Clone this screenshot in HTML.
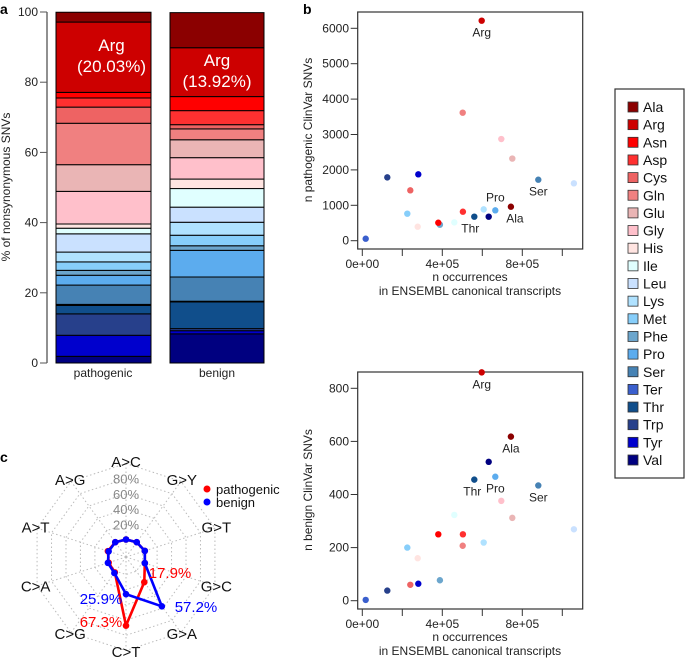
<!DOCTYPE html>
<html><head><meta charset="utf-8"><style>
html,body{margin:0;padding:0;background:#fff;}
svg{display:block;font-family:"Liberation Sans",sans-serif;}
</style></head><body>
<svg id="fig" width="685" height="660" viewBox="0 0 685 660"></svg>
<script>
const aminoAcids=["Ala","Arg","Asn","Asp","Cys","Gln","Glu","Gly","His","Ile","Leu","Lys","Met","Phe","Pro","Ser","Ter","Thr","Trp","Tyr","Val"];
const aaColors=["#8B0000","#CD0000","#FF0000","#FF3030","#EE6363","#F08080","#EAB5B5","#FFC0CB","#FFE4E1","#E0FFFF","#CAE1FF","#B0E2FF","#87CEFA","#6CA6CD","#5CACEE","#4682B4","#3A5FCD","#104E8B","#27408B","#0000CD","#000080"];
// panel a: percent of nonsynonymous SNVs (order as aminoAcids)
const pathogenicPct=[2.8,20.03,1.6,2.6,4.6,11.8,7.6,9.3,1.2,1.6,5.2,2.8,2.4,1.4,2.8,5.5,0.3,2.4,6.1,6.0,1.9];
const benignPct=[10.0,13.92,4.0,4.0,1.2,3.1,5.1,6.1,2.7,5.3,4.3,3.7,3.0,1.3,7.6,6.9,0.2,7.6,0.6,0.9,8.3];
// panel b: occurrences and counts
const occurrences=[743000,597000,380000,503000,240000,502000,750000,695000,277000,460000,1058000,607000,225000,388000,665000,880000,17000,560000,125000,280000,632000];
const pathogenicCount=[960,6215,508,819,1422,3616,2320,2872,395,518,1620,885,763,452,857,1723,56,678,1789,1874,678];
const benignCount=[618,860,250,250,60,207,312,376,160,323,269,219,200,77,467,434,3,456,38,64,523];
const xTicks=[0,200000,400000,600000,800000,1000000];
const xTickLabels=["0e+00","","4e+05","","8e+05",""];
const yTicksTop=[0,1000,2000,3000,4000,5000,6000];
const yTicksBot=[0,200,400,600,800];
const pctTicks=[0,20,40,60,80,100];
// panel c radar
const mutTypes=["A>C","G>Y","G>T","G>C","G>A","C>T","C>G","C>A","A>T","A>G"];
const radarPathogenic=[0,1,3,3,17.9,67.3,2,1,2,1];
const radarBenign=[0,1,3,3,57.2,25.9,3,2,1,1];
const radarTicks=[20,40,60,80];

const NS="http://www.w3.org/2000/svg";
const svg=document.getElementById('fig');
function mk(tag,attrs,parent,text){const e=document.createElementNS(NS,tag);for(const k in attrs)e.setAttribute(k,attrs[k]);if(text!==undefined)e.textContent=text;(parent||svg).appendChild(e);return e;}

// ---------- panel a ----------
const ga=mk('g',{});


const t=mk('text',{x:0,y:14,'font-size':14,'font-weight':'bold'},ga,'a');

const yA=v=>363-v*3.51;
const axA=mk('line',{x1:47,x2:47,y1:yA(0),y2:yA(100),stroke:'#555','stroke-width':1.3},ga);

pctTicks.forEach(v=>{
  mk('line',{x1:40,x2:47,y1:yA(v),y2:yA(v),stroke:'#555'},ga);
  const l=mk('text',{x:38,y:yA(v)+4,'font-size':12,'text-anchor':'end',fill:'#222'},ga,String(v));
  
});
const yt=mk('text',{x:10,y:187,'font-size':12,'text-anchor':'middle',transform:'rotate(-90 10 187)',fill:'#222'},ga,'% of nonsynonymous SNVs');

function stack(vals,x0,w,name){
  let cum=0;
  for(let i=aminoAcids.length-1;i>=0;i--){
    const r=mk('rect',{x:x0,y:yA(cum+vals[i]),width:w,height:vals[i]*3.51,fill:aaColors[i],stroke:'#000','stroke-width':1},ga);
    
    
    cum+=vals[i];
  }
}
stack(pathogenicPct,56,95,'pathogenic');
stack(benignPct,170,94,'benign');
[[103.5,'20.03%'],[217,'13.92%']].forEach((p,k)=>{
  const base=k===0?yA(97.2-pathogenicPct[1]/2):yA(89.8-benignPct[1]/2);
  const a=mk('text',{x:p[0]+(k?0:8),y:base-6,'font-size':17,fill:'#fff','text-anchor':'middle'},ga,'Arg');
  
  const b=mk('text',{x:p[0]+(k?0:8),y:base+15,'font-size':17,fill:'#fff','text-anchor':'middle'},ga,'('+p[1]+')');
  
});
const xl1=mk('text',{x:103,y:377,'font-size':12,'text-anchor':'middle',fill:'#222'},ga,'pathogenic');

const xl2=mk('text',{x:217,y:377,'font-size':12,'text-anchor':'middle',fill:'#222'},ga,'benign');


// ---------- panel b ----------
const xS=v=>362.3+v*0.0002;
function scatter(oy,counts,yTicks,yMax,ytitle,labels,name){
  const g=mk('g',{});
  
  const y0=oy+240.7, yTop=oy+28.3;
  const yS=v=>y0-(v/yMax)*(y0-yTop);
  const fr=mk('rect',{x:357.7,y:oy+12,width:225,height:237,fill:'none',stroke:'#333','stroke-width':1.2},g);
  
  xTicks.forEach((v,i)=>{
    mk('line',{x1:xS(v),x2:xS(v),y1:oy+249,y2:oy+256,stroke:'#333'},g);
    if(xTickLabels[i]){const l=mk('text',{x:xS(v),y:oy+268,'font-size':12,'text-anchor':'middle',fill:'#222'},g,xTickLabels[i]);
      }
  });
  yTicks.forEach(v=>{
    mk('line',{x1:350.7,x2:357.7,y1:yS(v),y2:yS(v),stroke:'#333'},g);
    const l=mk('text',{x:349,y:yS(v)+4,'font-size':12,'text-anchor':'end',fill:'#222'},g,String(v));
    
  });
  const a1=mk('text',{x:470,y:oy+281,'font-size':12,'text-anchor':'middle',fill:'#222'},g,'n occurrences');
  
  const a2=mk('text',{x:470,y:oy+295,'font-size':12,'text-anchor':'middle',fill:'#222'},g,'in ENSEMBL canonical transcripts');
  
  const ycy=oy+130;
  const ya=mk('text',{x:312,y:ycy,'font-size':12,'text-anchor':'middle',transform:'rotate(-90 312 '+ycy+')',fill:'#222'},g,ytitle);
  
  for(let i=aminoAcids.length-1;i>=0;i--){
    const c=mk('circle',{cx:xS(occurrences[i]),cy:yS(counts[i]),r:3.2,fill:aaColors[i]},g);
    
    
  }
  labels.forEach(L=>{
    const i=aminoAcids.indexOf(L.n);
    const l=mk('text',{x:xS(occurrences[i])+L.dx,y:yS(counts[i])+L.dy,'font-size':12,'text-anchor':'middle',fill:'#222'},g,L.n);
    
  });
}
const bl=mk('text',{x:303,y:14,'font-size':14,'font-weight':'bold'},null,'b');

scatter(0,pathogenicCount,yTicksTop,6000,'n pathogenic ClinVar SNVs',
 [{n:'Arg',dx:0,dy:16},{n:'Pro',dx:0,dy:-9},{n:'Ala',dx:4,dy:16},{n:'Thr',dx:-4,dy:16},{n:'Ser',dx:0,dy:16}],'scatter-pathogenic');
scatter(360,benignCount,yTicksBot,800,'n benign ClinVar SNVs',
 [{n:'Arg',dx:0,dy:16},{n:'Pro',dx:0,dy:16},{n:'Ala',dx:0,dy:16},{n:'Thr',dx:-2,dy:16},{n:'Ser',dx:0,dy:16}],'scatter-benign');

// ---------- legend ----------
const lg=mk('g',{});

mk('rect',{x:615,y:89,width:69,height:389,fill:'#fff',stroke:'#333','stroke-width':1.2},lg);
aminoAcids.forEach((a,i)=>{
  const y=107+i*17.65;
  const e=mk('g',{},lg);
  
  mk('rect',{x:628,y:y-5,width:10,height:10,fill:aaColors[i],stroke:'#333','stroke-width':0.8},e);
  mk('text',{x:643,y:y+5,'font-size':14,fill:'#111'},e,a);
});

// ---------- panel c ----------
const gc=mk('g',{});

const cl=mk('text',{x:0,y:462,'font-size':14,'font-weight':'bold'},gc,'c');

const CX=126,CY=557;
const rS=v=>17.5+0.76*v;
const pt=(i,r)=>{const a=i*2*Math.PI/mutTypes.length;return [CX+r*Math.sin(a),CY-r*Math.cos(a)];};
[0,20,40,60,80,100].forEach(v=>{
  const p=mutTypes.map((_,i)=>pt(i,rS(v)).join(',')).join(' ');
  mk('polygon',{points:p,fill:'none',stroke:'#bbb','stroke-dasharray':'1.5,2.5','stroke-width':1},gc);
});
mutTypes.forEach((m,i)=>{
  const [x,y]=pt(i,rS(100));
  mk('line',{x1:CX,y1:CY,x2:x,y2:y,stroke:'#bbb','stroke-dasharray':'1.5,2.5'},gc);
  const [lx,ly]=pt(i,95);
  const l=mk('text',{x:lx,y:ly+5,'font-size':15,'text-anchor':'middle',fill:'#111'},gc,m);
  
});
radarTicks.forEach(v=>{
  const l=mk('text',{x:CX,y:CY-rS(v)+5,'font-size':13,'text-anchor':'middle',fill:'#888'},gc,v+'%');
  
});
function series(vals,col,name){
  const pts=vals.map((v,i)=>pt(i,rS(v)));
  const pl=mk('polygon',{points:pts.map(p=>p.join(',')).join(' '),fill:'none',stroke:col,'stroke-width':2.6,'stroke-linejoin':'round'},gc);
  
  pts.forEach(p=>{const c=mk('circle',{cx:p[0],cy:p[1],r:3.3,fill:col},gc);
    });
}
series(radarPathogenic,'#FF0000','pathogenic');
series(radarBenign,'#0000FF','benign');
[[170,578,'#FF0000','17.9%'],[196,612,'#0000FF','57.2%'],[101,604,'#0000FF','25.9%'],[101,627,'#FF0000','67.3%']].forEach(d=>{
  const l=mk('text',{x:d[0],y:d[1],'font-size':15,'text-anchor':'middle',fill:d[2]},gc,d[3]);
  
});
const rl=mk('g',{},gc);

mk('circle',{cx:207,cy:489,r:3.5,fill:'#FF0000'},rl);
mk('text',{x:216,y:494,'font-size':13,fill:'#111'},rl,'pathogenic');
mk('circle',{cx:207,cy:502,r:3.5,fill:'#0000FF'},rl);
mk('text',{x:216,y:507,'font-size':13,fill:'#111'},rl,'benign');
</script>
</body></html>
